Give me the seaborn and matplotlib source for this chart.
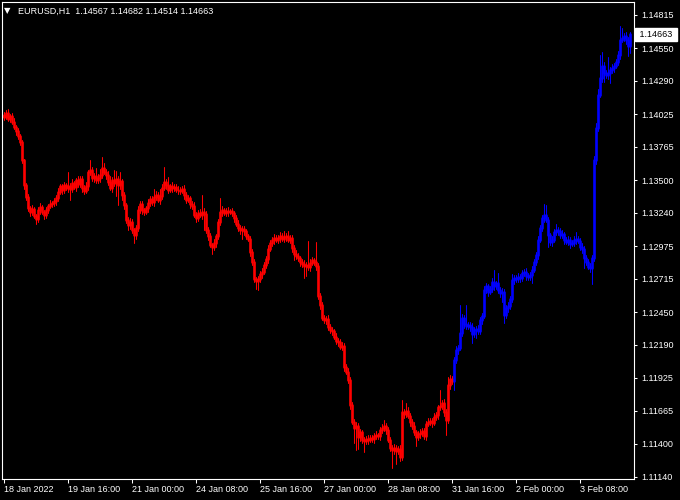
import matplotlib
matplotlib.use("Agg")
import matplotlib.pyplot as plt
import numpy as np
import pandas as pd
import seaborn as sns

# ---------------- data ----------------
symbol = "EURUSD,H1"
first_open = 1.14019

close = [
    1.14003, 1.14035, 1.13987, 1.14011, 1.13963, 1.13923, 1.13891, 1.13851, 1.13804, 1.13660,
    1.13461, 1.13366, 1.13278, 1.13247, 1.13270, 1.13215, 1.13191, 1.13262, 1.13286, 1.13247,
    1.13223, 1.13262, 1.13294, 1.13310, 1.13318, 1.13334, 1.13358, 1.13406, 1.13453, 1.13422,
    1.13461, 1.13438, 1.13453, 1.13430, 1.13477, 1.13446, 1.13501, 1.13469, 1.13509, 1.13438,
    1.13414, 1.13453, 1.13565, 1.13581, 1.13517, 1.13533, 1.13501, 1.13517, 1.13541, 1.13597,
    1.13565, 1.13541, 1.13485, 1.13438, 1.13501, 1.13477, 1.13509, 1.13461, 1.13493, 1.13382,
    1.13302, 1.13183, 1.13143, 1.13167, 1.13103, 1.13063, 1.13119, 1.13262, 1.13310, 1.13262,
    1.13247, 1.13278, 1.13318, 1.13350, 1.13326, 1.13366, 1.13382, 1.13342, 1.13374, 1.13438,
    1.13485, 1.13461, 1.13422, 1.13453, 1.13438, 1.13446, 1.13422, 1.13422, 1.13414, 1.13430,
    1.13382, 1.13342, 1.13358, 1.13310, 1.13294, 1.13223, 1.13199, 1.13239, 1.13223, 1.13247,
    1.13231, 1.13103, 1.13055, 1.12984, 1.12968, 1.13000, 1.13055, 1.13167, 1.13247, 1.13262,
    1.13239, 1.13254, 1.13247, 1.13254, 1.13239, 1.13199, 1.13151, 1.13119, 1.13103, 1.13111,
    1.13095, 1.13055, 1.13032, 1.12928, 1.12849, 1.12713, 1.12697, 1.12713, 1.12753, 1.12769,
    1.12825, 1.12872, 1.12952, 1.13000, 1.13024, 1.13040, 1.13024, 1.13040, 1.13055, 1.13032,
    1.13048, 1.13055, 1.13024, 1.13040, 1.12960, 1.12912, 1.12896, 1.12880, 1.12849, 1.12833,
    1.12817, 1.12825, 1.12809, 1.12841, 1.12864, 1.12849, 1.12817, 1.12578, 1.12506, 1.12403,
    1.12387, 1.12395, 1.12331, 1.12307, 1.12299, 1.12252, 1.12220, 1.12212, 1.12172, 1.12180,
    1.12013, 1.11973, 1.11909, 1.11710, 1.11575, 1.11527, 1.11543, 1.11456, 1.11495, 1.11432,
    1.11424, 1.11440, 1.11432, 1.11448, 1.11440, 1.11463, 1.11471, 1.11463, 1.11511, 1.11527,
    1.11543, 1.11511, 1.11432, 1.11368, 1.11352, 1.11368, 1.11344, 1.11360, 1.11296, 1.11655,
    1.11639, 1.11662, 1.11623, 1.11575, 1.11543, 1.11495, 1.11456, 1.11479, 1.11487, 1.11503,
    1.11463, 1.11559, 1.11575, 1.11583, 1.11567, 1.11615, 1.11631, 1.11694, 1.11702, 1.11726,
    1.11655, 1.11591, 1.11869, 1.11917, 1.11901, 1.12068, 1.12148, 1.12164, 1.12283, 1.12403,
    1.12355, 1.12339, 1.12347, 1.12331, 1.12275, 1.12307, 1.12315, 1.12299, 1.12387, 1.12419,
    1.12626, 1.12657, 1.12610, 1.12634, 1.12689, 1.12657, 1.12681, 1.12626, 1.12602, 1.12610,
    1.12427, 1.12482, 1.12498, 1.12554, 1.12705, 1.12721, 1.12713, 1.12729, 1.12721, 1.12761,
    1.12769, 1.12737, 1.12729, 1.12745, 1.12785, 1.12849, 1.12904, 1.13024, 1.13119, 1.13199,
    1.13223, 1.13183, 1.13063, 1.13008, 1.13024, 1.13087, 1.13103, 1.13095, 1.13063, 1.13071,
    1.13024, 1.13008, 1.13024, 1.12992, 1.13000, 1.13024, 1.13032, 1.13016, 1.12968, 1.12952,
    1.12880, 1.12849, 1.12809, 1.12801, 1.12880, 1.13660, 1.13915, 1.14178, 1.14313, 1.14409,
    1.14353, 1.14337, 1.14353, 1.14377, 1.14393, 1.14409, 1.14441, 1.14496, 1.14616, 1.14632,
    1.14647, 1.14616, 1.14567, 1.14663,
]

# upper / lower shadow lengths in points (0.00001)
wick_up_pts = [
    20, 25, 32, 15, 20, 30, 15, 25, 20, 15, 10, 20, 25, 15, 30, 20, 15, 25, 30, 20,
    15, 25, 20, 30, 15, 20, 25, 32, 20, 15, 25, 20, 110, 25, 30, 20, 15, 35, 20, 25,
    20, 30, 15, 80, 25, 20, 60, 30, 45, 90, 40, 25, 30, 50, 20, 80, 60, 25, 70, 20,
    25, 15, 20, 30, 20, 15, 25, 30, 20, 25, 15, 20, 30, 25, 20, 60, 35, 25, 55, 30,
    120, 25, 60, 20, 30, 25, 20, 35, 25, 20, 30, 20, 25, 15, 20, 30, 25, 20, 30, 135,
    30, 25, 20, 25, 15, 30, 20, 25, 110, 30, 20, 25, 30, 20, 25, 15, 20, 30, 25, 20,
    25, 20, 15, 20, 25, 20, 15, 20, 25, 30, 20, 25, 30, 25, 20, 30, 25, 20, 30, 25,
    48, 25, 40, 20, 25, 20, 30, 25, 20, 25, 30, 25, 190, 30, 25, 20, 160, 25, 20, 25,
    20, 25, 30, 20, 25, 20, 30, 25, 20, 30, 25, 20, 30, 25, 20, 25, 30, 20, 25, 20,
    25, 20, 30, 25, 20, 25, 30, 20, 25, 30, 50, 25, 20, 25, 20, 30, 25, 20, 30, 96,
    25, 60, 30, 20, 25, 30, 20, 25, 30, 20, 25, 20, 30, 25, 20, 30, 25, 20, 130, 25,
    30, 25, 60, 30, 20, 25, 30, 20, 220, 30, 25, 150, 20, 25, 30, 20, 25, 30, 20, 25,
    30, 25, 20, 25, 30, 96, 20, 80, 25, 30, 20, 25, 30, 20, 50, 25, 20, 30, 25, 20,
    25, 30, 20, 25, 30, 20, 25, 30, 25, 20, 88, 80, 25, 20, 30, 25, 48, 20, 25, 30,
    20, 25, 30, 20, 25, 30, 56, 20, 25, 30, 20, 25, 20, 30, 25, 30, 40, 50, 180, 110,
    30, 25, 130, 25, 30, 25, 20, 30, 110, 80, 25, 30, 25, 19,
]
wick_dn_pts = [
    25, 20, 15, 25, 20, 15, 30, 20, 25, 20, 30, 25, 20, 30, 25, 20, 40, 25, 30, 20,
    30, 25, 20, 15, 25, 20, 30, 25, 20, 30, 25, 20, 30, 90, 25, 20, 30, 25, 20, 30,
    25, 20, 30, 25, 20, 30, 25, 20, 30, 25, 20, 30, 25, 20, 30, 25, 100, 160, 30, 40,
    30, 25, 40, 30, 25, 60, 30, 25, 20, 30, 25, 20, 30, 25, 20, 30, 25, 20, 30, 25,
    20, 30, 25, 20, 30, 25, 20, 30, 25, 20, 30, 25, 20, 30, 25, 20, 30, 25, 20, 30,
    130, 25, 30, 20, 56, 25, 30, 20, 25, 30, 20, 25, 30, 20, 25, 30, 20, 25, 30, 72,
    30, 25, 20, 30, 25, 20, 64, 70, 25, 30, 20, 25, 30, 20, 25, 30, 20, 25, 30, 20,
    25, 30, 20, 25, 30, 50, 25, 20, 30, 25, 96, 80, 25, 30, 20, 25, 30, 25, 30, 20,
    25, 30, 20, 25, 30, 20, 25, 30, 20, 25, 30, 20, 25, 30, 20, 120, 175, 100, 30, 25,
    90, 25, 30, 20, 25, 30, 20, 25, 30, 20, 25, 30, 20, 25, 145, 30, 100, 25, 30, 25,
    30, 25, 20, 30, 25, 20, 70, 25, 30, 20, 25, 30, 20, 25, 30, 20, 25, 30, 20, 25,
    30, 120, 25, 30, 20, 72, 25, 30, 20, 25, 30, 20, 25, 30, 72, 25, 60, 20, 25, 30,
    20, 25, 30, 20, 25, 30, 20, 25, 30, 70, 64, 25, 30, 20, 25, 30, 20, 25, 30, 20,
    25, 30, 20, 25, 64, 20, 25, 30, 20, 25, 30, 20, 96, 25, 30, 20, 25, 30, 20, 25,
    30, 20, 25, 30, 20, 25, 30, 20, 25, 30, 80, 25, 20, 30, 130, 25, 30, 25, 20, 30,
    72, 25, 30, 80, 25, 30, 20, 25, 30, 20, 25, 30, 80, 53,
]

trend_runs = [("down", 225), ("up", 89)]
trend_colors = {"down": "#ff0000", "up": "#0000ff"}

x_tick_bars = [0, 32, 64, 96, 128, 160, 192, 224, 256, 288]
x_tick_labels = ["18 Jan 2022", "19 Jan 16:00", "21 Jan 00:00", "24 Jan 08:00",
                 "25 Jan 16:00", "27 Jan 00:00", "28 Jan 08:00", "31 Jan 16:00",
                 "2 Feb 00:00", "3 Feb 08:00"]
y_ticks = [1.11140, 1.11400, 1.11665, 1.11925, 1.12190, 1.12450, 1.12715, 1.12975,
           1.13240, 1.13500, 1.13765, 1.14025, 1.14290, 1.14550, 1.14815]

# ---------------- build tables ----------------
point = 0.00001
n = len(close)
opens = [first_open] + close[:-1]
trend = [t for t, k in trend_runs for _ in range(k)]
highs = [max(o, c) + u * point for o, c, u in zip(opens, close, wick_up_pts)]
lows = [min(o, c) - d * point for o, c, d in zip(opens, close, wick_dn_pts)]

wick_rows, body_rows = [], []
for i in range(n):
    wick_rows.append((i, i, lows[i], trend[i]))
    wick_rows.append((i, i, highs[i], trend[i]))
    body_rows.append((i, i, opens[i], trend[i]))
    body_rows.append((i, i, close[i], trend[i]))
wick_df = pd.DataFrame(wick_rows, columns=["bar", "bar_id", "price", "trend"])
body_df = pd.DataFrame(body_rows, columns=["bar", "bar_id", "price", "trend"])

# ---------------- style ----------------
sns.set_theme(style="dark", rc={
    "axes.facecolor": "black", "figure.facecolor": "black",
    "axes.edgecolor": "white", "axes.grid": False,
    "text.color": "white", "xtick.color": "white", "ytick.color": "white",
})
plt.rcParams["font.family"] = ["Liberation Sans", "DejaVu Sans"]

W, H = 680, 500
fig = plt.figure(figsize=(W / 100, H / 100), dpi=100, facecolor="black")
ax = fig.add_axes([2 / W, 21 / H, 632 / W, 477 / H])
ax.set_facecolor("black")

sns.lineplot(data=wick_df, x="bar", y="price", units="bar_id", hue="trend",
             palette=trend_colors, estimator=None, sort=False, legend=False,
             linewidth=0.75, ax=ax)
sns.lineplot(data=body_df, x="bar", y="price", units="bar_id", hue="trend",
             palette=trend_colors, estimator=None, sort=False, legend=False,
             linewidth=1.9, ax=ax)

ax.grid(False)
ax.set_xlim(-0.75, 315.25)
ax.set_ylim(1.11121, 1.14918)
ax.set_xlabel("")
ax.set_ylabel("")
for s in ax.spines.values():
    s.set_visible(True)
    s.set_color("white")
    s.set_linewidth(0.8)

ax.yaxis.tick_right()
ax.set_yticks(y_ticks)
ax.set_yticklabels([f"{v:.5f}" for v in y_ticks])
ax.set_xticks(x_tick_bars)
ax.set_xticklabels(x_tick_labels, ha="left")
ax.tick_params(axis="y", which="major", direction="out", length=2.4, width=0.75,
               color="white", labelcolor="white", labelsize=6.5, pad=2.8,
               right=True, left=False, labelright=True, labelleft=False)
ax.tick_params(axis="x", which="major", direction="out", length=2.9, width=0.75,
               color="white", labelcolor="white", labelsize=6.5, pad=1.2,
               bottom=True, top=False)
ax.minorticks_off()

# current price label
ax.annotate(f" {close[-1]:.5f} ", xy=(1.0, close[-1]),
            xycoords=("axes fraction", "data"), xytext=(3, 0),
            textcoords="offset pixels", ha="left", va="center",
            fontsize=6.5, color="black",
            bbox=dict(boxstyle="square,pad=0.22", fc="white", ec="white"))

# header
fig.text(7 / W, 1 - 11 / H, "\u25BC", fontsize=6, color="white",
         family="DejaVu Sans", ha="center", va="center")
fig.text(18 / W, 1 - 11 / H,
         f"{symbol}  {opens[-1]:.5f} {highs[-1]:.5f} {lows[-1]:.5f} {close[-1]:.5f}",
         fontsize=6.5, color="white", ha="left", va="center")

fig.savefig("out.png", dpi=100, facecolor="black")
